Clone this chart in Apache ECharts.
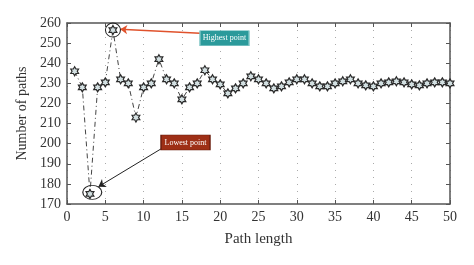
<!DOCTYPE html>
<html>
<head>
<meta charset="utf-8">
<script src="https://cdn.jsdelivr.net/npm/echarts@6/dist/echarts.min.js"></script>
<style>
  html, body { margin: 0; padding: 0; background: #fff; }
  #chart { width: 474px; height: 265px; }
</style>
</head>
<body>
<div id="chart"></div>
<script>
// path length (x) and number of paths (y)
const pathLengths = [1, 2, 3, 4, 5, 6, 7, 8, 9, 10, 11, 12, 13, 14, 15, 16, 17, 18, 19, 20,
  21, 22, 23, 24, 25, 26, 27, 28, 29, 30, 31, 32, 33, 34, 35, 36, 37, 38, 39, 40,
  41, 42, 43, 44, 45, 46, 47, 48, 49, 50];
const numPaths = [236, 228, 175, 228, 230.5, 256.5, 232, 230, 213, 228,
  230, 242, 232, 230, 222, 228, 230, 236.5, 232, 229.5,
  225, 227.5, 230, 233.5, 232, 230, 227.5, 228.5, 230.5, 232,
  232, 230, 228.5, 228.5, 230, 231, 232, 230, 229, 228.5,
  230, 230.5, 231, 230.5, 229.5, 229, 230, 230.5, 230.5, 230];
const xTicks = [0, 5, 10, 15, 20, 25, 30, 35, 40, 45, 50];
const yTicks = [170, 180, 190, 200, 210, 220, 230, 240, 250, 260];

const serif = '"Liberation Serif", "DejaVu Serif", serif';
const star = 'path://M0,-10 L2.887,-5 L8.66,-5 L5.774,0 L8.66,5 L2.887,5 L0,10 L-2.887,5 L-8.66,5 L-5.774,0 L-8.66,-5 L-2.887,-5 Z';

const points = pathLengths.map((x, i) => [x, numPaths[i]]);
let hiIdx = 0, loIdx = 0;
numPaths.forEach((v, i) => {
  if (v > numPaths[hiIdx]) hiIdx = i;
  if (v < numPaths[loIdx]) loIdx = i;
});

const chart = echarts.init(document.getElementById('chart'));
const option = {
  backgroundColor: '#fff',
  animation: false,
  grid: { left: 67, right: 24, top: 23, bottom: 61 },
  xAxis: [
    {
      type: 'value', min: 0, max: 50, interval: 5,
      name: 'Path length', nameLocation: 'middle', nameGap: 28,
      nameTextStyle: { fontFamily: serif, fontSize: 15, color: '#333' },
      axisLine: { lineStyle: { color: '#555', width: 1.5 } },
      axisTick: { inside: true, length: 4, lineStyle: { color: '#555' } },
      axisLabel: { fontFamily: serif, fontSize: 14, color: '#333', margin: 6,
        formatter: v => xTicks.includes(v) ? String(v) : '' },
      splitLine: { show: true, lineStyle: { color: '#aaa', type: [1, 6] } }
    },
    {
      type: 'value', min: 0, max: 50, interval: 5, position: 'top',
      axisLine: { show: true, onZero: false, lineStyle: { color: '#555', width: 1.5 } },
      axisTick: { inside: true, length: 4, lineStyle: { color: '#555' } },
      axisLabel: { show: false },
      splitLine: { show: false }
    }
  ],
  yAxis: [
    {
      type: 'value', min: 170, max: 260, interval: 10,
      name: 'Number of paths', nameLocation: 'middle', nameGap: 33,
      nameTextStyle: { fontFamily: serif, fontSize: 14, color: '#333' },
      axisLine: { show: true, lineStyle: { color: '#555', width: 1.5 } },
      axisTick: { show: true, inside: true, length: 4, lineStyle: { color: '#555' } },
      axisLabel: { fontFamily: serif, fontSize: 14, color: '#333', margin: 6,
        formatter: v => yTicks.includes(v) ? String(v) : '' },
      splitLine: { show: false }
    },
    {
      type: 'value', min: 170, max: 260, interval: 10, position: 'right',
      axisLine: { show: true, onZero: false, lineStyle: { color: '#555', width: 1.5 } },
      axisTick: { show: true, inside: true, length: 4, lineStyle: { color: '#555' } },
      axisLabel: { show: false },
      splitLine: { show: false }
    }
  ],
  series: [
    {
      type: 'line',
      data: points,
      symbol: star,
      symbolSize: 9,
      symbolKeepAspect: true,
      lineStyle: { color: '#444', width: 1, type: [5, 3, 1, 3] },
      itemStyle: { color: '#d3e0e2', borderColor: '#2a2a2a', borderWidth: 1.2 },
      z: 3,
      markPoint: {
        silent: true,
        data: [
          { coord: points[hiIdx], symbol: 'circle', symbolSize: [15, 14],
            itemStyle: { color: 'rgba(0,0,0,0)', borderColor: '#222', borderWidth: 1 },
            label: { show: false } },
          { coord: [points[loIdx][0] + 0.3, points[loIdx][1] + 0.8], symbol: 'circle', symbolSize: [19, 14],
            itemStyle: { color: 'rgba(0,0,0,0)', borderColor: '#222', borderWidth: 1 },
            label: { show: false } },
          { coord: [20.56, 252.4], symbol: 'rect', symbolSize: [49, 15],
            itemStyle: { color: '#2b9a9b', borderColor: '#7cc4c4', borderWidth: 0.8 },
            label: { show: true, position: 'inside', formatter: 'Highest point',
              fontFamily: serif, fontSize: 8, color: '#fff' } },
          { coord: [15.47, 200.6], symbol: 'rect', symbolSize: [49, 15],
            itemStyle: { color: '#9e2f16', borderColor: '#6a1e0e', borderWidth: 0.8 },
            label: { show: true, position: 'inside', formatter: 'Lowest point',
              fontFamily: serif, fontSize: 8, color: '#fff' } }
        ]
      },
      markLine: {
        silent: true,
        symbol: ['none', 'arrow'],
        symbolSize: 7,
        label: { show: false },
        data: [
          [ { coord: [17.36, 254.9], lineStyle: { color: '#e0522c', width: 1.3, type: 'solid' } },
            { coord: [6.95, 256.9] } ],
          [ { coord: [12.27, 197.4], lineStyle: { color: '#222', width: 1, type: 'solid' } },
            { coord: [4.1, 178.6] } ]
        ]
      }
    }
  ]
};
chart.setOption(option);
</script>
</body>
</html>
